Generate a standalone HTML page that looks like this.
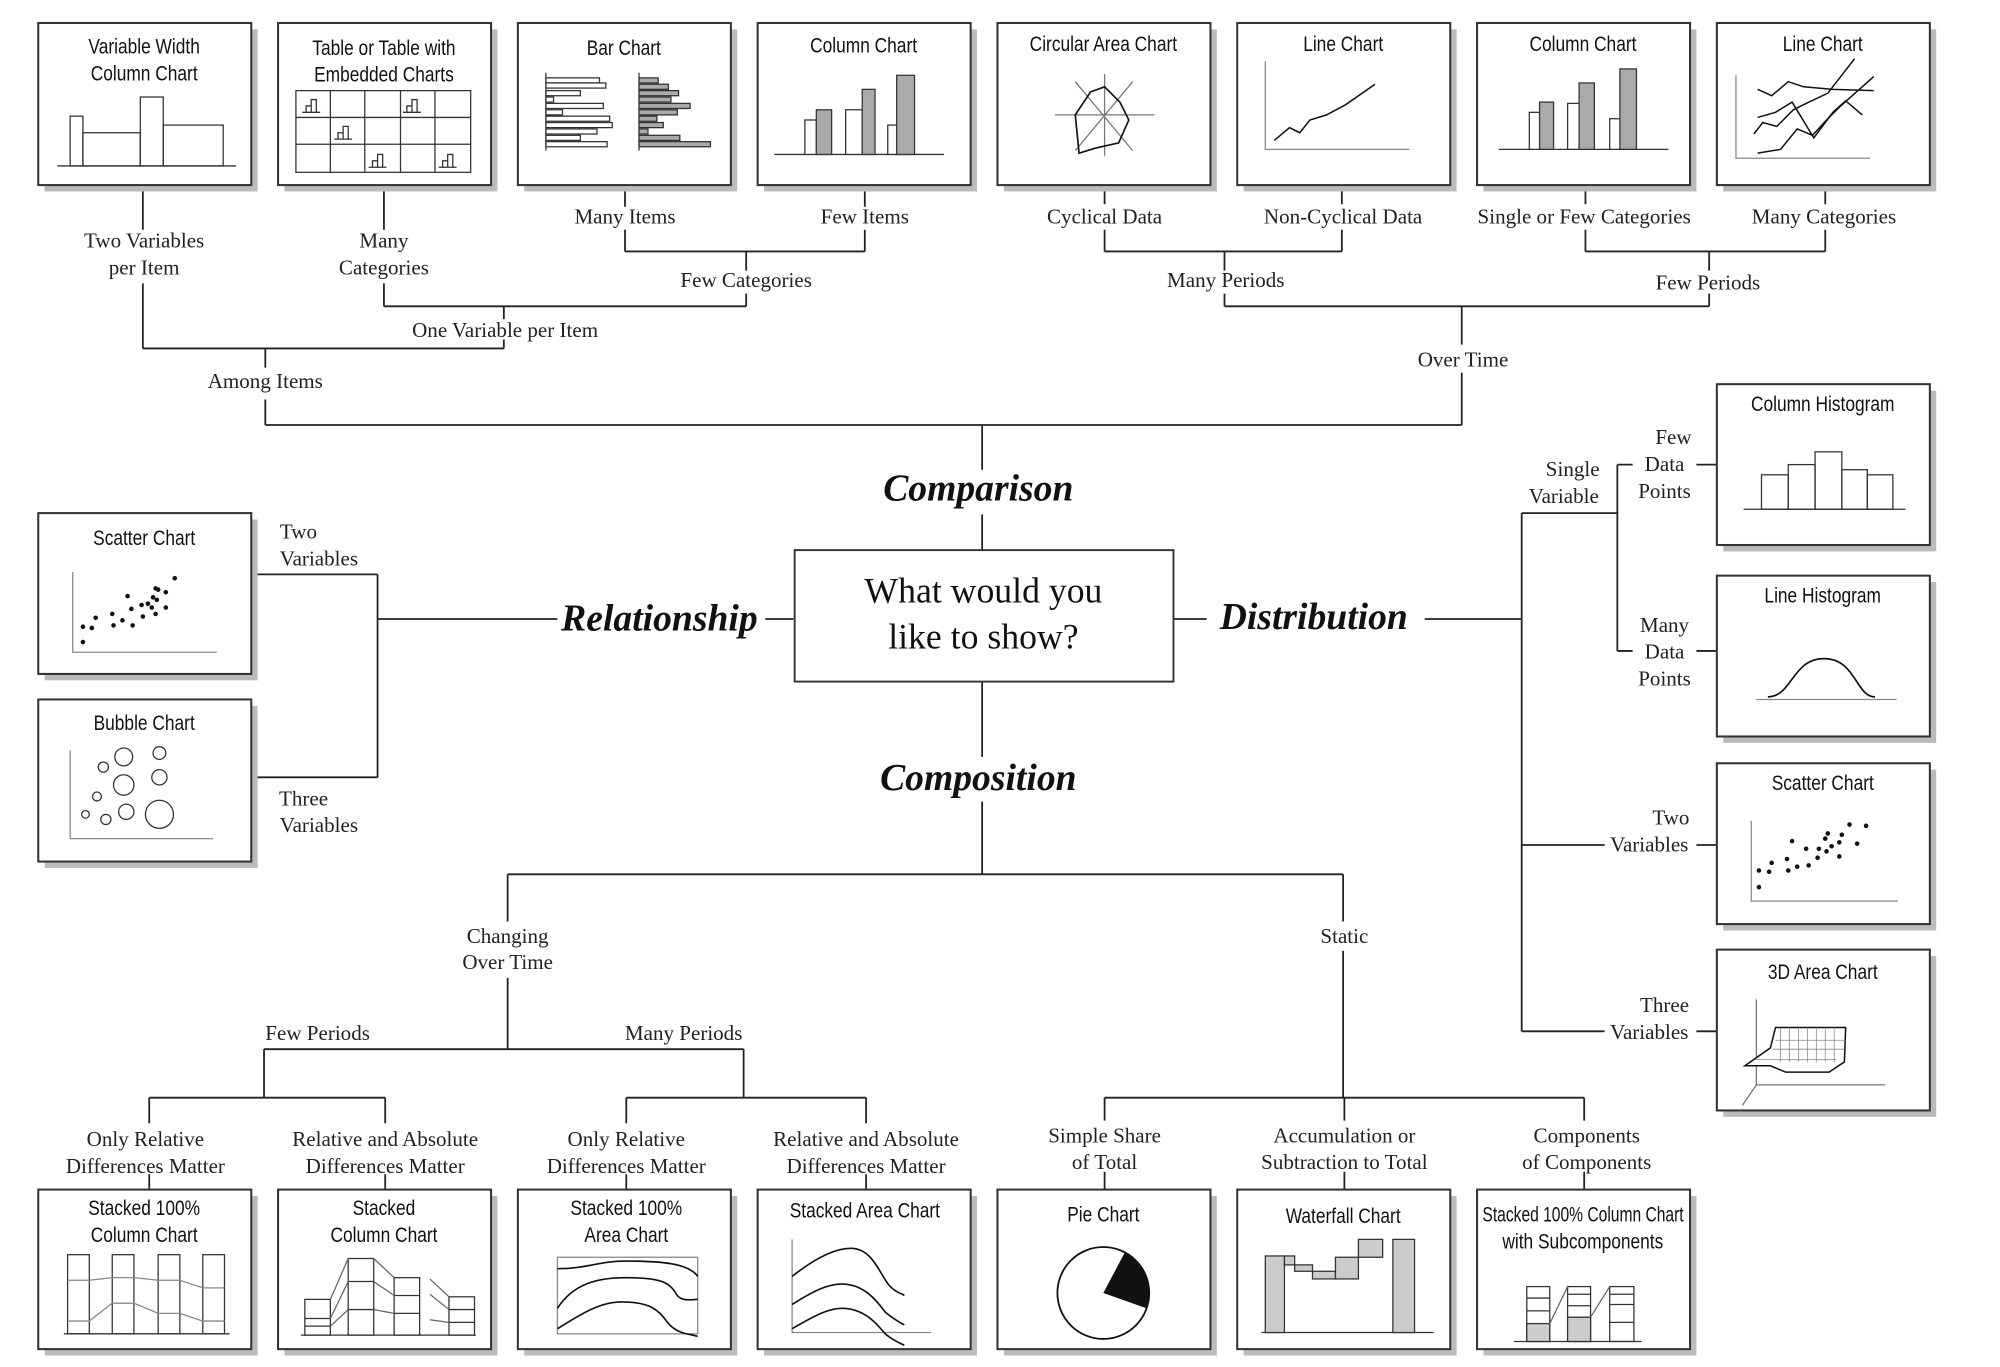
<!DOCTYPE html>
<html><head><meta charset="utf-8"><style>
html,body{margin:0;padding:0;background:#fff;}
svg{display:block;}
.t text{font-family:"Liberation Sans Narrow","Liberation Sans",sans-serif;font-size:17px;fill:#111;text-anchor:middle;transform-box:fill-box;transform-origin:center;transform:scaleX(0.8);}
.t text.sm{transform:scaleX(0.72);}
.l{font-family:"Liberation Serif",serif;font-size:16.5px;fill:#222;text-anchor:middle;}
.b{font-family:"Liberation Serif",serif;font-size:29.5px;font-weight:bold;font-style:italic;fill:#111;text-anchor:middle;}
.c{font-family:"Liberation Serif",serif;font-size:28px;fill:#111;text-anchor:middle;}
.ln{stroke:#222;stroke-width:1.4;fill:none;}
.th{stroke:#333;stroke-width:1;fill:none;}
.wb{stroke:#333;stroke-width:1;fill:#fff;}
.gb{stroke:#333;stroke-width:1;fill:#aaa;}
.sh{fill:#bbb;}
.bx{fill:#fff;stroke:#333;stroke-width:1.6;}
</style></head><body>
<svg width="2000" height="1367" viewBox="0 0 1568 1071" preserveAspectRatio="none" xmlns="http://www.w3.org/2000/svg">
<g class="ln">
<path d="M770 333V368 M770 403V431 M208 333H1146 M208 333V313 M208 288V273 M112 273H395 M112 273V222 M395 273V266 M395 250V240 M301 240H585 M301 240V222 M585 240V230 M585 212V197 M490 197H678 M490 197V180 M678 197V180 M490 145V162 M678 145V162 M112 145V180 M301 145V180"/>
<path d="M1146 333V292 M1146 270V240 M960 240H1340 M960 240V230 M1340 240V230 M960 212V197 M866 197H1052 M866 197V180 M1052 197V180 M866 145V160 M1052 145V160 M1340 212V197 M1243 197H1431 M1243 197V180 M1431 197V180 M1243 145V160 M1431 145V160"/>
<path d="M600 485H622 M296 485H437 M296 450V609 M197 450H296 M197 609H296"/>
<path d="M920 485H946 M1117 485H1193 M1193 402V808 M1193 402H1268 M1268 364V510 M1268 364H1280 M1330 364H1346 M1268 510H1280 M1330 510H1346 M1193 662H1258 M1330 662H1346 M1193 808H1258 M1330 808H1346"/>
<path d="M770 534V593 M770 628V685 M398 685H1053 M398 685V722 M398 766V822 M207 822H583 M207 822V860 M583 822V860 M117 860H302 M491 860H679 M117 860V880 M302 860V880 M491 860V880 M679 860V880 M117 920V932 M302 920V932 M491 920V932 M679 920V932"/>
<path d="M1053 685V722 M1053 745V860 M866 860H1242 M866 860V878 M1054 860V878 M1242 860V878 M866 918V932 M1054 918V932 M1242 918V932"/>
</g>

<rect x="623" y="431" width="297" height="103" fill="#fff" stroke="#333" stroke-width="1.5"/>
<text class="c" x="771" y="472">What would you</text>
<text class="c" x="771" y="508">like to show?</text>
<text class="b" x="767" y="392">Comparison</text>
<text class="b" x="517" y="494">Relationship</text>
<text class="b" x="1030" y="493">Distribution</text>
<text class="b" x="767" y="619">Composition</text>

<g class="l">
<text x="113" y="194">Two Variables</text><text x="113" y="215">per Item</text>
<text x="301" y="194">Many</text><text x="301" y="215">Categories</text>
<text x="490" y="175">Many Items</text><text x="678" y="175">Few Items</text>
<text x="585" y="225">Few Categories</text>
<text x="396" y="264">One Variable per Item</text>
<text x="208" y="304">Among Items</text>
<text x="866" y="175">Cyclical Data</text><text x="1053" y="175">Non-Cyclical Data</text>
<text x="1242" y="175">Single or Few Categories</text><text x="1430" y="175">Many Categories</text>
<text x="961" y="225">Many Periods</text><text x="1339" y="227">Few Periods</text>
<text x="1147" y="287">Over Time</text>
<text x="234" y="422">Two</text><text x="250" y="443">Variables</text>
<text x="238" y="631">Three</text><text x="250" y="652">Variables</text>
<text x="1233" y="373">Single</text><text x="1226" y="394">Variable</text>
<text x="1312" y="348">Few</text><text x="1305" y="369">Data</text><text x="1305" y="390">Points</text>
<text x="1305" y="495">Many</text><text x="1305" y="516">Data</text><text x="1305" y="537">Points</text>
<text x="1310" y="646">Two</text><text x="1293" y="667">Variables</text>
<text x="1305" y="793">Three</text><text x="1293" y="814">Variables</text>
<text x="398" y="739">Changing</text><text x="398" y="759">Over Time</text>
<text x="1054" y="739">Static</text>
<text x="249" y="815">Few Periods</text><text x="536" y="815">Many Periods</text>
<text x="114" y="898">Only Relative</text><text x="114" y="919">Differences Matter</text>
<text x="302" y="898">Relative and Absolute</text><text x="302" y="919">Differences Matter</text>
<text x="491" y="898">Only Relative</text><text x="491" y="919">Differences Matter</text>
<text x="679" y="898">Relative and Absolute</text><text x="679" y="919">Differences Matter</text>
<text x="866" y="895">Simple Share</text><text x="866" y="916">of Total</text>
<text x="1054" y="895">Accumulation or</text><text x="1054" y="916">Subtraction to Total</text>
<text x="1244" y="895">Components</text><text x="1244" y="916">of Components</text>
</g>

<g>
<rect class="sh" x="35" y="23" width="167" height="127"/><rect class="bx" x="30" y="18" width="167" height="127"/>
<rect class="sh" x="223" y="23" width="167" height="127"/><rect class="bx" x="218" y="18" width="167" height="127"/>
<rect class="sh" x="411" y="23" width="167" height="127"/><rect class="bx" x="406" y="18" width="167" height="127"/>
<rect class="sh" x="599" y="23" width="167" height="127"/><rect class="bx" x="594" y="18" width="167" height="127"/>
<rect class="sh" x="787" y="23" width="167" height="127"/><rect class="bx" x="782" y="18" width="167" height="127"/>
<rect class="sh" x="975" y="23" width="167" height="127"/><rect class="bx" x="970" y="18" width="167" height="127"/>
<rect class="sh" x="1163" y="23" width="167" height="127"/><rect class="bx" x="1158" y="18" width="167" height="127"/>
<rect class="sh" x="1351" y="23" width="167" height="127"/><rect class="bx" x="1346" y="18" width="167" height="127"/>
<rect class="sh" x="35" y="407" width="167" height="126"/><rect class="bx" x="30" y="402" width="167" height="126"/>
<rect class="sh" x="35" y="553" width="167" height="127"/><rect class="bx" x="30" y="548" width="167" height="127"/>
<rect class="sh" x="1351" y="306" width="167" height="126"/><rect class="bx" x="1346" y="301" width="167" height="126"/>
<rect class="sh" x="1351" y="456" width="167" height="126"/><rect class="bx" x="1346" y="451" width="167" height="126"/>
<rect class="sh" x="1351" y="603" width="167" height="126"/><rect class="bx" x="1346" y="598" width="167" height="126"/>
<rect class="sh" x="1351" y="749" width="167" height="126"/><rect class="bx" x="1346" y="744" width="167" height="126"/>
<rect class="sh" x="35" y="937" width="167" height="125"/><rect class="bx" x="30" y="932" width="167" height="125"/>
<rect class="sh" x="223" y="937" width="167" height="125"/><rect class="bx" x="218" y="932" width="167" height="125"/>
<rect class="sh" x="411" y="937" width="167" height="125"/><rect class="bx" x="406" y="932" width="167" height="125"/>
<rect class="sh" x="599" y="937" width="167" height="125"/><rect class="bx" x="594" y="932" width="167" height="125"/>
<rect class="sh" x="787" y="937" width="167" height="125"/><rect class="bx" x="782" y="932" width="167" height="125"/>
<rect class="sh" x="975" y="937" width="167" height="125"/><rect class="bx" x="970" y="932" width="167" height="125"/>
<rect class="sh" x="1163" y="937" width="167" height="125"/><rect class="bx" x="1158" y="932" width="167" height="125"/>
</g>

<g class="t">
<text x="113" y="42">Variable Width</text><text x="113" y="63">Column Chart</text>
<text x="301" y="43">Table or Table with</text><text x="301" y="64">Embedded Charts</text>
<text x="489" y="43">Bar Chart</text>
<text x="677" y="41">Column Chart</text>
<text x="865" y="40">Circular Area Chart</text>
<text x="1053" y="40">Line Chart</text>
<text x="1241" y="40">Column Chart</text>
<text x="1429" y="40">Line Chart</text>
<text x="113" y="427">Scatter Chart</text>
<text x="113" y="572">Bubble Chart</text>
<text x="1429" y="322">Column Histogram</text>
<text x="1429" y="472">Line Histogram</text>
<text x="1429" y="619">Scatter Chart</text>
<text x="1429" y="767">3D Area Chart</text>
<text x="113" y="952">Stacked 100%</text><text x="113" y="973">Column Chart</text>
<text x="301" y="952">Stacked</text><text x="301" y="973">Column Chart</text>
<text x="491" y="952">Stacked 100%</text><text x="491" y="973">Area Chart</text>
<text x="678" y="954">Stacked Area Chart</text>
<text x="865" y="957">Pie Chart</text>
<text x="1053" y="958">Waterfall Chart</text>
<text class="sm" x="1241" y="957">Stacked 100% Column Chart</text><text x="1241" y="978">with Subcomponents</text>
</g>

<g class="th"><path d="M45 130H185"/><rect x="55" y="91" width="10" height="39"/><rect x="65" y="104" width="45" height="26"/><rect x="110" y="76" width="18" height="54"/><rect x="128" y="98" width="47" height="32"/></g>
<g class="th"><rect x="232" y="71" width="137" height="64"/><path d="M259 71V135M286 71V135M314 71V135M341 71V135M232 92H369M232 113H369"/>
<path d="M237 88H251M240 88V83H244V88M244 88V78H248V88"/><path d="M316 88H330M319 88V83H323V88M323 88V78H327V88"/><path d="M262 109H276M265 109V104H269V109M269 109V99H273V109"/><path d="M289 131H303M292 131V126H296V131M296 131V121H300V131"/><path d="M344 131H358M347 131V126H351V131M351 131V121H355V131"/></g>
<g class="th"><path d="M428 57V118"/>
<rect x="428" y="61" width="42" height="4" fill="#fff"/><rect x="428" y="65" width="47" height="4" fill="#fff"/><rect x="428" y="71" width="27" height="4" fill="#fff"/><rect x="428" y="76" width="6" height="4" fill="#fff"/><rect x="428" y="81" width="45" height="4" fill="#fff"/><rect x="428" y="86" width="13" height="4" fill="#fff"/><rect x="428" y="91" width="50" height="4" fill="#fff"/><rect x="428" y="96" width="52" height="4" fill="#fff"/><rect x="428" y="101" width="40" height="4" fill="#fff"/><rect x="428" y="106" width="27" height="4" fill="#fff"/><rect x="428" y="111" width="48" height="4" fill="#fff"/>
<path d="M501 57V118"/>
<rect class="gb" x="501" y="61" width="15" height="4"/><rect class="gb" x="501" y="66" width="23" height="4"/><rect class="gb" x="501" y="71" width="31" height="4"/><rect class="gb" x="501" y="76" width="25" height="4"/><rect class="gb" x="501" y="81" width="40" height="4"/><rect class="gb" x="501" y="86" width="30" height="4"/><rect class="gb" x="501" y="91" width="14" height="4"/><rect class="gb" x="501" y="96" width="19" height="4"/><rect class="gb" x="501" y="101" width="7" height="4"/><rect class="gb" x="501" y="106" width="32" height="4"/><rect class="gb" x="501" y="111" width="56" height="4"/></g>
<g class="th"><path d="M607 121H740"/><rect class="wb" x="631" y="94" width="9" height="27"/><rect class="gb" x="640" y="86" width="12" height="35"/><rect class="wb" x="663" y="86" width="13" height="35"/><rect class="gb" x="676" y="70" width="10" height="51"/><rect class="wb" x="696" y="98" width="12" height="23"/><rect class="gb" x="703" y="59" width="14" height="62"/></g>
<g class="th"><path d="M866 58V122M827 90H905M843 64L888 118M888 64L843 118" stroke="#777"/><path d="M855 72L866 68L878 80L885 94L877 112L859 116L846 120L843 90Z" stroke="#111" stroke-width="1.3"/></g>
<g class="th"><path d="M992 48V117H1105" stroke="#888"/><path d="M999 110L1011 100L1019 104L1027 94L1040 90L1055 82L1078 66" stroke="#111" stroke-width="1.2"/></g>
<g class="th"><path d="M1175 117H1308"/><rect class="wb" x="1199" y="88" width="9" height="29"/><rect class="gb" x="1207" y="80" width="11" height="37"/><rect class="wb" x="1229" y="81" width="11" height="36"/><rect class="gb" x="1238" y="65" width="12" height="52"/><rect class="wb" x="1262" y="93" width="11" height="24"/><rect class="gb" x="1270" y="54" width="13" height="63"/></g>
<g class="th"><path d="M1361 59V124H1466" stroke="#888"/><g stroke="#111" stroke-width="1.2"><path d="M1378 70L1389 75L1402 64L1414 68L1437 70L1469 71"/><path d="M1378 92L1392 88L1405 80L1422 108L1437 88L1447 79L1460 90"/><path d="M1375 105L1382 96L1393 99L1406 86L1416 81L1433 73L1454 46"/><path d="M1378 120L1396 117L1409 101L1421 106L1433 93L1442 84L1469 60"/></g></g>

<g class="th"><path d="M57 448V511H170" stroke="#888"/></g>
<g fill="#111"><circle cx="65" cy="503" r="1.8"/><circle cx="65" cy="491" r="1.8"/><circle cx="72" cy="492" r="1.8"/><circle cx="75" cy="484" r="1.8"/><circle cx="88" cy="481" r="1.8"/><circle cx="89" cy="490" r="1.8"/><circle cx="96" cy="486" r="1.8"/><circle cx="103" cy="477" r="1.8"/><circle cx="104" cy="490" r="1.8"/><circle cx="100" cy="467" r="1.8"/><circle cx="111" cy="474" r="1.8"/><circle cx="112" cy="483" r="1.8"/><circle cx="116" cy="473" r="1.8"/><circle cx="120" cy="468" r="1.8"/><circle cx="119" cy="476" r="1.8"/><circle cx="123" cy="470" r="1.8"/><circle cx="122" cy="481" r="1.8"/><circle cx="124" cy="462" r="1.8"/><circle cx="130" cy="464" r="1.8"/><circle cx="130" cy="476" r="1.8"/><circle cx="137" cy="453" r="1.8"/><circle cx="122" cy="461" r="1.8"/></g>
<g class="th"><path d="M55 588V657H167" stroke="#888"/><circle cx="97" cy="593" r="7"/><circle cx="81" cy="601" r="4"/><circle cx="125" cy="590" r="5"/><circle cx="125" cy="609" r="6"/><circle cx="97" cy="615" r="8"/><circle cx="76" cy="624" r="3.5"/><circle cx="99" cy="636" r="6"/><circle cx="83" cy="642" r="4"/><circle cx="125" cy="638" r="11"/><circle cx="67" cy="638" r="3"/></g>
<g class="th"><path d="M1367 399H1494"/><rect x="1381" y="372" width="21" height="27"/><rect x="1402" y="364" width="21" height="35"/><rect x="1423" y="354" width="21" height="45"/><rect x="1444" y="368" width="20" height="31"/><rect x="1464" y="372" width="20" height="27"/></g>
<g class="th"><path d="M1377 548H1487" stroke="#888"/><path d="M1386 546C1405 546 1405 516 1430 516C1455 516 1455 546 1470 546" stroke="#111" stroke-width="1.3"/></g>
<g class="th"><path d="M1373 643V706H1488" stroke="#888"/></g>
<g fill="#111"><circle cx="1379" cy="695" r="1.8"/><circle cx="1379" cy="682" r="1.8"/><circle cx="1387" cy="683" r="1.8"/><circle cx="1389" cy="676" r="1.8"/><circle cx="1401" cy="673" r="1.8"/><circle cx="1402" cy="682" r="1.8"/><circle cx="1409" cy="679" r="1.8"/><circle cx="1405" cy="659" r="1.8"/><circle cx="1416" cy="665" r="1.8"/><circle cx="1418" cy="678" r="1.8"/><circle cx="1426" cy="665" r="1.8"/><circle cx="1425" cy="672" r="1.8"/><circle cx="1431" cy="657" r="1.8"/><circle cx="1432" cy="667" r="1.8"/><circle cx="1436" cy="663" r="1.8"/><circle cx="1433" cy="653" r="1.8"/><circle cx="1442" cy="660" r="1.8"/><circle cx="1442" cy="671" r="1.8"/><circle cx="1444" cy="654" r="1.8"/><circle cx="1450" cy="646" r="1.8"/><circle cx="1456" cy="661" r="1.8"/><circle cx="1463" cy="647" r="1.8"/></g>
<g class="th"><path d="M1377 783V850M1377 850L1366 866M1377 850H1478" stroke="#777"/><path d="M1368 835L1388 821L1392 805H1447L1446 832L1434 840H1400L1388 835Z" stroke="#111" stroke-width="1.2" fill="#fff"/><path d="M1396 805V832M1403 805V832M1410 805V832M1417 805V832M1424 805V832M1431 805V832M1438 805V832M1392 815H1447M1390 822H1446M1376 830H1440" stroke="#888" stroke-width="0.6"/></g>

<g class="th"><path d="M50 1045H180"/><rect x="53" y="983" width="17" height="62"/><rect x="88" y="983" width="17" height="62"/><rect x="124" y="983" width="17" height="62"/><rect x="159" y="983" width="17" height="62"/><path d="M53 1003H70L88 1001H105L124 1003H141L159 1009H176M53 1035H70L88 1021H105L124 1029H141L159 1035H176" stroke="#888"/></g>
<g class="th"><path d="M236 1046H373"/><rect x="239" y="1018" width="20" height="28"/><path d="M239 1033H259M239 1039H259"/><rect x="273" y="986" width="20" height="60"/><path d="M273 1004H293M273 1026H293"/><rect x="309" y="1001" width="20" height="45"/><path d="M309 1015H329M309 1029H329"/><rect x="352" y="1016" width="20" height="30"/><path d="M352 1026H372M352 1036H372"/><path d="M259 1018L273 986M259 1033L273 1004M259 1039L273 1026M293 986L309 1001M293 1004L309 1015M293 1026L309 1029M337 1002L352 1016M337 1014L352 1026M337 1034L352 1036" stroke="#666"/></g>
<g class="th"><rect x="437" y="985" width="110" height="60" stroke="#888"/><g stroke="#111" stroke-width="1.3"><path d="M437 994C460 994 470 988 490 988C520 988 540 990 547 1000"/><path d="M437 1025C450 1005 470 1001 490 1001C520 1001 525 1005 531 1015C535 1020 543 1018 547 1018"/><path d="M437 1041C455 1030 470 1020 487 1020C515 1020 518 1030 525 1038C532 1045 540 1045 547 1047"/></g></g>
<g class="th"><path d="M621 971V1044H730" stroke="#888"/><g stroke="#111" stroke-width="1.3"><path d="M621 1000C640 985 655 978 667 978C685 978 690 1000 698 1008C704 1014 707 1013 709 1015"/><path d="M621 1022C640 1010 650 1006 660 1006C678 1006 688 1020 694 1028C700 1033 707 1037 709 1038"/><path d="M621 1041C640 1030 650 1025 660 1025C678 1025 688 1038 694 1045C700 1050 707 1053 709 1054"/></g></g>
<g><circle cx="865" cy="1013" r="36" fill="#fff" stroke="#111" stroke-width="1.4"/><path d="M865 1013L882 981A36 36 0 0 1 899 1025Z" fill="#111"/></g>
<g class="th"><path d="M989 1044H1124"/><rect x="992" y="984" width="15" height="60" fill="#ccc"/><rect x="1007" y="984" width="8" height="7" fill="#ccc"/><rect x="1015" y="991" width="14" height="5" fill="#ccc"/><rect x="1029" y="996" width="18" height="6" fill="#ccc"/><rect x="1047" y="985" width="18" height="17" fill="#ccc"/><rect x="1065" y="971" width="19" height="14" fill="#ccc"/><rect x="1092" y="971" width="17" height="73" fill="#ccc"/></g>
<g class="th"><path d="M1187 1051H1287"/><rect x="1197" y="1008" width="18" height="43"/><path d="M1197 1017H1215M1197 1027H1215M1197 1037H1215"/><rect x="1197" y="1037" width="18" height="14" fill="#ccc"/><rect x="1229" y="1008" width="18" height="43"/><path d="M1229 1014H1247M1229 1023H1247M1229 1032H1247"/><rect x="1229" y="1032" width="18" height="19" fill="#ccc"/><rect x="1262" y="1008" width="19" height="43"/><path d="M1262 1014H1281M1262 1022H1281M1262 1036H1281"/><path d="M1215 1037L1229 1008M1247 1032L1262 1008" stroke="#666"/></g>
</svg>
</body></html>
